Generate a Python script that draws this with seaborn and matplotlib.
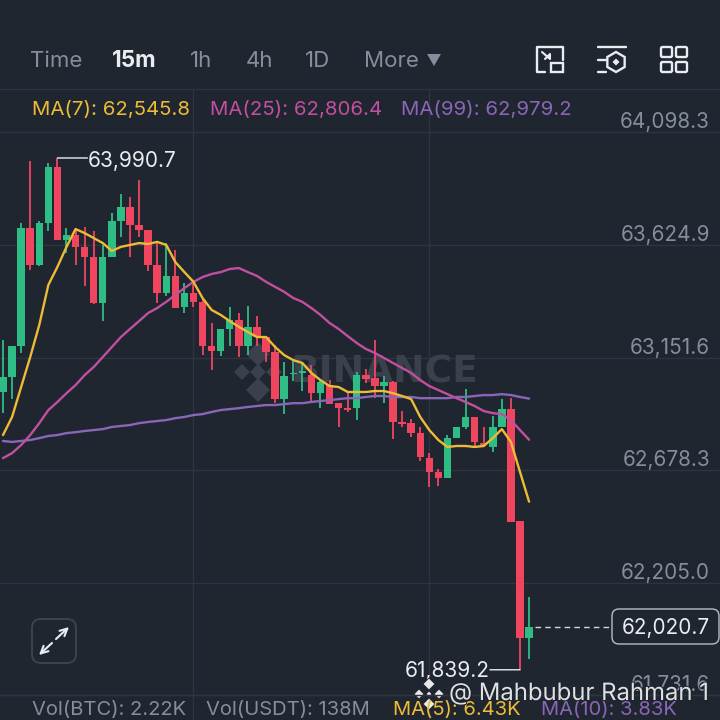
import pandas as pd
import matplotlib
matplotlib.use("Agg")
import matplotlib.pyplot as plt
import matplotlib.patheffects as pe
from matplotlib.patches import FancyBboxPatch, Rectangle, RegularPolygon
import seaborn as sns

# Candle data
opens = [63007, 63070, 63200, 63696, 63541, 63717, 63953, 63646, 63667, 63617,
         63575, 63381, 63575, 63726, 63785, 63709, 63688, 63541, 63423, 63495,
         63364, 63423, 63386, 63200, 63179, 63272, 63310, 63200, 63281, 63238,
         63175, 62977, 63083, 63087, 63078, 63002, 63036, 62960, 62939, 62939,
         63078, 63066, 63032, 63049, 62881, 62876, 62834, 62730, 62671, 62645,
         62813, 62860, 62902, 62792, 62776, 62860, 62935, 62465, 61973]
highs = [63226, 63200, 63717, 63978, 63726, 63969, 63990.7, 63696, 63688, 63701,
         63684, 63625, 63759, 63839, 63827, 63898, 63688, 63638, 63633, 63604,
         63465, 63478, 63402, 63297, 63272, 63364, 63339, 63369, 63327, 63242,
         63205, 63133, 63145, 63129, 63120, 63057, 63057, 62960, 63007, 63091,
         63103, 63226, 63074, 63053, 62927, 62893, 62860, 62750, 62683, 62826,
         62860, 63019, 62902, 62860, 62906, 62977, 62981, 62465, 62145]
lows = [62918, 62977, 63171, 63520, 63537, 63684, 63646, 63591, 63541, 63452,
        63377, 63305, 63575, 63659, 63575, 63659, 63516, 63381, 63411, 63360,
        63339, 63364, 63162, 63099, 63158, 63200, 63154, 63162, 63200, 63133,
        62960, 62914, 63053, 63011, 62969, 62939, 62956, 62860, 62923, 62889,
        63044, 62981, 62960, 62809, 62860, 62818, 62717, 62608, 62612, 62645,
        62813, 62851, 62780, 62776, 62755, 62860, 62460, 61839.2, 61885]
closes = [63070, 63200, 63696, 63541, 63717, 63953, 63646, 63667, 63617, 63575,
          63381, 63575, 63726, 63785, 63709, 63688, 63541, 63423, 63495, 63360,
          63423, 63386, 63200, 63179, 63272, 63310, 63200, 63281, 63238, 63175,
          62977, 63074, 63087, 63095, 63002, 63049, 62956, 62939, 62931, 63078,
          63061, 63032, 63049, 62881, 62872, 62834, 62734, 62671, 62645, 62813,
          62860, 62902, 62797, 62784, 62860, 62935, 62460, 61973, 62020.7]

# Moving averages
ma7 = [62826, 62902, 63028, 63154, 63289, 63457, 63533, 63617, 63692, 63675,
       63654, 63633, 63600, 63617, 63625, 63633, 63629, 63638, 63625, 63553,
       63511, 63470, 63402, 63352, 63331, 63305, 63281, 63259, 63238, 63238,
       63196, 63162, 63141, 63129, 63087, 63057, 63032, 63028, 63007, 63007,
       63007, 63011, 63011, 63002, 62990, 62977, 62902, 62847, 62805, 62776,
       62780, 62780, 62776, 62780, 62813, 62851, 62797, 62671, 62545.8]
ma25 = [62729, 62750, 62784, 62826, 62876, 62931, 62965, 63002, 63036, 63078,
        63112, 63154, 63196, 63238, 63272, 63305, 63339, 63360, 63386, 63415,
        63444, 63470, 63490, 63503, 63511, 63524, 63528, 63511, 63495, 63470,
        63449, 63428, 63402, 63386, 63360, 63331, 63297, 63272, 63242, 63213,
        63188, 63171, 63150, 63129, 63108, 63087, 63057, 63032, 63015, 62998,
        62981, 62965, 62948, 62927, 62918, 62914, 62889, 62847, 62806.4]
ma99 = [62801, 62797, 62801, 62805, 62813, 62822, 62826, 62834, 62838, 62843,
        62847, 62851, 62860, 62864, 62868, 62876, 62881, 62885, 62889, 62897,
        62902, 62910, 62914, 62923, 62931, 62935, 62939, 62944, 62948, 62952,
        62952, 62956, 62960, 62960, 62965, 62969, 62973, 62977, 62981, 62981,
        62986, 62990, 62990, 62986, 62986, 62986, 62981, 62981, 62981, 62981,
        62986, 62986, 62990, 62994, 62994, 62998, 62994, 62986, 62979.2]

price_ticks = [64098.3, 63624.9, 63151.6, 62678.3, 62205.0, 61731.6]
grid_candles = [21, 47]
last_price = 62020.7

timeframes = ["Time", "15m", "1h", "4h", "1D", "More"]
timeframe_x = [30, 112, 190, 246, 305, 364]

bg = "#1F2630"
grid_color = "#2E3540"
grey = "#848E9C"
green = "#2EBD85"
red = "#F0455F"
yellow = "#EDBB36"
pink = "#C24FA0"
purple = "#8A66B8"
white = "#EAECEF"
mark = "#3A414C"

sns.set_theme(style="dark", rc={"axes.facecolor": bg, "figure.facecolor": bg})
plt.rcParams["font.family"] = ["Inter", "DejaVu Sans"]

df = pd.DataFrame({"candle": range(len(opens)), "open": opens, "high": highs,
                   "low": lows, "close": closes,
                   "ma7": ma7, "ma25": ma25, "ma99": ma99})
up = df[df["close"] >= df["open"]]
down = df[df["close"] < df["open"]]

fig = plt.figure(figsize=(7.2, 7.2), dpi=100)
ax = fig.add_axes([0, 0, 1, 1])
ax.set_xlim(-0.331, 79.05)
ax.set_ylim(61628.1, 64654.8)
ax.axis("off")

# Overlay in pixels for the app's buttons and labels
ui = fig.add_axes([0, 0, 1, 1], facecolor="none")
ui.set_xlim(0, 720)
ui.set_ylim(720, 0)
ui.axis("off")

# -----------------------------------
# Grid and watermark
# -----------------------------------
ax.hlines(price_ticks, -1, 80, color=grid_color, lw=1, zorder=1)
ax.vlines(grid_candles, 61628.1, 64280, color=grid_color, lw=1, zorder=1)
ax.text(384 / 720, 1 - 372 / 720, "BINANCE", transform=ax.transAxes, color=mark, fontsize=27,
        family="DejaVu Sans", fontweight="bold", ha="center", va="center", zorder=1.5)
for x, y, r in [(258, 354, 12), (242, 372, 8), (274, 372, 8), (258, 372, 8), (258, 390, 12)]:
    ax.add_patch(RegularPolygon((x / 720, 1 - y / 720), 4, radius=r / 720, transform=ax.transAxes,
                                fc=mark, ec="none", zorder=1.5))

# -----------------------------------
# Candles
# -----------------------------------
ax.vlines(up["candle"], up["low"], up["high"], color=green, lw=1.3, zorder=2)
ax.vlines(down["candle"], down["low"], down["high"], color=red, lw=1.3, zorder=2)
ax.bar(up["candle"], up["close"] - up["open"], bottom=up["open"], width=0.82,
       color=green, linewidth=0, zorder=3)
ax.bar(down["candle"], down["open"] - down["close"], bottom=down["close"], width=0.82,
       color=red, linewidth=0, zorder=3)

# -----------------------------------
# Moving averages
# -----------------------------------
sns.lineplot(data=df, x="candle", y="ma99", color=purple, lw=1.7, ax=ax, zorder=4)
sns.lineplot(data=df, x="candle", y="ma25", color=pink, lw=1.7, ax=ax, zorder=5)
sns.lineplot(data=df, x="candle", y="ma7", color=yellow, lw=1.7, ax=ax, zorder=6)
ax.axis("off")

# -----------------------------------
# Price labels
# -----------------------------------
for p in price_ticks:
    ax.annotate(f"{p:,.1f}", xy=(710, p), xycoords=("figure pixels", "data"), xytext=(0, 10),
                textcoords="offset pixels", ha="right", va="center", color=grey, fontsize=14.9, zorder=7)

hi = df["high"].idxmax()
lo = df["low"].idxmin()
ax.annotate("", xy=(hi, highs[hi]), xytext=(30, 0), textcoords="offset pixels",
            arrowprops=dict(arrowstyle="-", color=white, lw=1, shrinkA=0, shrinkB=0), zorder=7)
ax.annotate(f"{highs[hi]:,.1f}", xy=(hi, highs[hi]), xytext=(30, -3), textcoords="offset pixels",
            ha="left", va="center", color=white, fontsize=15, zorder=7)
ax.annotate("", xy=(lo, lows[lo]), xytext=(-30, 0), textcoords="offset pixels",
            arrowprops=dict(arrowstyle="-", color=white, lw=1, shrinkA=0, shrinkB=0), zorder=7)
ax.annotate(f"{lows[lo]:,.1f}", xy=(lo, lows[lo]), xytext=(-30, -1), textcoords="offset pixels",
            ha="right", va="center", color=white, fontsize=15, zorder=7)

ax.plot([len(opens) - 0.4, 73], [last_price, last_price], color="#D5D8DC", lw=1, ls=(0, (4, 3)), zorder=7)
ui.add_patch(FancyBboxPatch((612, 609), 107, 35, boxstyle="round,pad=0,rounding_size=7",
                            fc=bg, ec="#B7BDC6", lw=1))
ui.text(666, 628, f"{last_price:,.1f}", ha="center", va="center", color=white, fontsize=14.9)

# -----------------------------------
# Header
# -----------------------------------
for name, x in zip(timeframes, timeframe_x):
    active = name == "15m"
    ui.text(x, 61, name, ha="left", va="center", fontsize=16.2 if active else 16,
            color=white if active else grey, fontweight="bold" if active else "normal")
ui.add_patch(RegularPolygon((434, 58), 3, radius=8, orientation=0, fc=grey, ec="none"))
ui.axhline(89, color=grid_color, lw=1)

ui.text(32, 110.5, f"MA(7): {ma7[-1]:,.1f}", color=yellow, fontsize=14.7, va="center")
ui.text(210, 110.5, f"MA(25): {ma25[-1]:,.1f}", color=pink, fontsize=14.7, va="center")
ui.text(401, 110.5, f"MA(99): {ma99[-1]:,.1f}", color=purple, fontsize=14.7, va="center")

# Header icons
ui.plot([563, 563, 537, 537, 545], [60, 47, 47, 72, 72], color=white, lw=1.7)
ui.add_patch(Rectangle((551, 63), 12, 9, fc="none", ec=white, lw=1.7))
ui.plot([542, 550, 550, 545], [52, 59, 54, 59], color=white, lw=1.5)
ui.plot([598, 626], [47, 47], color=white, lw=1.7)
ui.plot([598, 606], [60, 60], color=white, lw=1.7)
ui.plot([598, 606], [72, 72], color=white, lw=1.7)
ui.add_patch(RegularPolygon((616, 62), 6, radius=10, fc="none", ec=white, lw=1.7))
ui.add_patch(RegularPolygon((616, 62), 4, radius=3.5, fc=white, ec="none"))
for x, y in [(661, 47), (676, 47), (661, 62), (676, 62)]:
    ui.add_patch(FancyBboxPatch((x, y), 11, 10, boxstyle="round,pad=0,rounding_size=1.5",
                                fc="none", ec=white, lw=1.7))

# Expand button
ui.add_patch(FancyBboxPatch((32, 619), 44, 44, boxstyle="round,pad=0,rounding_size=9",
                            fc="none", ec="#3C434E", lw=1.4))
ui.annotate("", xy=(69, 627), xytext=(56, 639),
            arrowprops=dict(arrowstyle="->", color=white, lw=1.5, mutation_scale=13, shrinkA=0, shrinkB=0))
ui.annotate("", xy=(39, 655), xytext=(52, 643),
            arrowprops=dict(arrowstyle="->", color=white, lw=1.5, mutation_scale=13, shrinkA=0, shrinkB=0))

# -----------------------------------
# Volume line and watermark text
# -----------------------------------
ui.axhline(695, color=grid_color, lw=1)
ui.text(32, 710, "Vol(BTC): 2.22K", color=grey, fontsize=14.5, va="center")
ui.text(206, 710, "Vol(USDT): 138M", color=grey, fontsize=14.5, va="center")
ui.text(393, 710, "MA(5): 6.43K", color=yellow, fontsize=14.5, va="center")
ui.text(541, 710, "MA(10): 3.83K", color=purple, fontsize=14.5, va="center")

shadow = [pe.withStroke(linewidth=1.5, foreground="#20242B")]
ui.text(449, 694, "@ Mahbubur Rahman 1", color="#DDE0E4", fontsize=17.2, va="center", path_effects=shadow)
for x, y, r in [(429, 684, 6), (419, 694, 5), (439, 694, 5), (429, 704, 6), (429, 694, 3)]:
    ui.add_patch(RegularPolygon((x, y), 4, radius=r, fc="#E6E8EB", ec="#20242B", lw=0.6))

fig.savefig("out.png", dpi=100, facecolor=bg)
